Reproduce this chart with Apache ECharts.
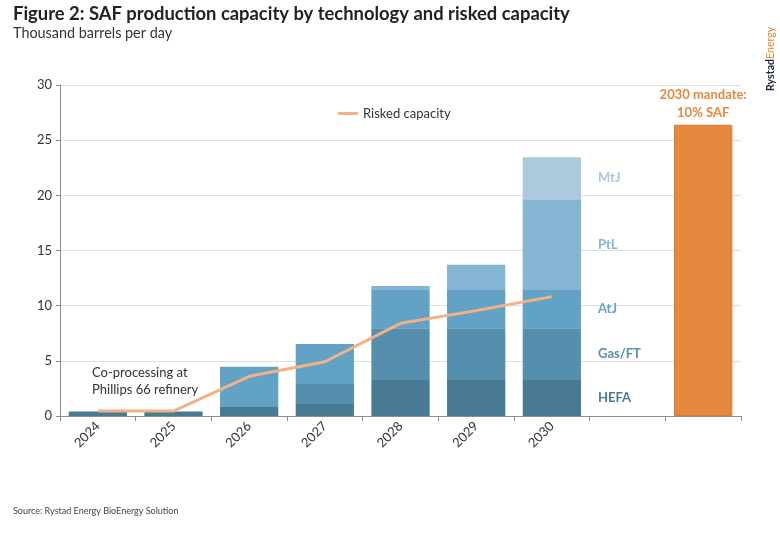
<!DOCTYPE html>
<html><head><meta charset="utf-8">
<script src="https://cdn.jsdelivr.net/npm/echarts@6/dist/echarts.min.js"></script>
<style>html,body{margin:0;padding:0;background:#fff}#c{width:780px;height:540px}</style>
</head><body><div id="c"></div>
<script>
const categories = ['2024','2025','2026','2027','2028','2029','2030','',''];
const hefa   = [0.4, 0.4, 0.82, 1.09, 3.26, 3.26, 3.26, null, null];
const gasft  = [0, 0, 0, 1.81, 4.69, 4.69, 4.69, null, null];
const atj    = [0, 0, 3.65, 3.63, 3.47, 3.47, 3.47, null, null];
const ptl    = [0, 0, 0, 0, 0.36, 2.28, 8.23, null, null];
const mtj    = [0, 0, 0, 0, 0, 0, 3.8, null, null];
const mandate = [null, null, null, null, null, null, null, null, 26.4];
const risked = [0.45, 0.45, 3.6, 4.92, 8.4, 9.55, 10.82, null, null];
const yTicks = [0, 5, 10, 15, 20, 25, 30];

const FONT = 'Lato';
const colors = {HEFA:'#497a94', 'Gas/FT':'#558fad', AtJ:'#62a3c5', PtL:'#84b5d3', MtJ:'#abcadd'};

function layer(name, data) {
  return {
    name, type:'bar', stack:'total', data, barCategoryGap:'23%',
    itemStyle:{color:colors[name]},
    label:{show:true, position:'right', distance:17, color:colors[name], fontFamily:FONT,
      fontWeight:'bold', fontSize:13,
      formatter:p => p.dataIndex === 6 ? name : ''},
    emphasis:{disabled:true}
  };
}

const chart = echarts.init(document.getElementById('c'));
chart.setOption({
  animation:false,
  textStyle:{fontFamily:FONT},
  title:[
    {text:'Figure 2: SAF production capacity by technology and risked capacity', left:8, top:0,
     textStyle:{fontFamily:FONT, fontWeight:'bold', fontSize:18.4, color:'#222'}},
    {text:'Thousand barrels per day', left:8, top:21,
     textStyle:{fontFamily:FONT, fontWeight:'normal', fontSize:14.4, color:'#333'}},
    {text:'Source: Rystad Energy BioEnergy Solution', left:8, top:502,
     textStyle:{fontFamily:FONT, fontWeight:'normal', fontSize:9, color:'#444'}}
  ],
  legend:{data:['Risked capacity'], left:333, top:102, itemWidth:20, itemHeight:3, itemGap:2,
    icon:'rect', textStyle:{fontFamily:FONT, fontSize:13, color:'#333'}},
  grid:{left:60, right:39, top:85, bottom:124},
  xAxis:{type:'category', data:categories,
    axisLine:{lineStyle:{color:'#8c8c8c'}},
    axisTick:{show:true, length:5, lineStyle:{color:'#8c8c8c'}},
    axisLabel:{rotate:45, fontFamily:FONT, fontSize:13, color:'#333', margin:8, interval:0}},
  yAxis:{type:'value', min:yTicks[0], max:yTicks[yTicks.length-1], interval:5,
    axisLine:{show:true, lineStyle:{color:'#8c8c8c'}},
    axisTick:{show:true, length:4, lineStyle:{color:'#8c8c8c'}},
    axisLabel:{fontFamily:FONT, fontSize:13, color:'#333', margin:8},
    splitLine:{lineStyle:{color:'#dedede'}}},
  series:[
    layer('HEFA', hefa), layer('Gas/FT', gasft), layer('AtJ', atj), layer('PtL', ptl), layer('MtJ', mtj),
    {name:'Mandate', type:'bar', stack:'total', data:mandate,
     itemStyle:{color:'#e5893f', borderColor:'#d97a30', borderWidth:1},
     label:{show:true, position:'top', distance:3, formatter:'2030 mandate:\n10% SAF',
       color:'#e5893f', fontFamily:FONT, fontWeight:'bold', fontSize:13, lineHeight:18}},
    {name:'Risked capacity', type:'line', data:risked, symbol:'none', connectNulls:false,
     lineStyle:{color:'#f4b183', width:3}, itemStyle:{color:'#f4b183'}, z:5}
  ],
  graphic:[
    {type:'text', left:92, top:364, style:{text:'Co-processing at\nPhillips 66 refinery',
      font:'13px Lato', fill:'#333', lineHeight:17}},
    {type:'text', x:765, y:91, rotation:Math.PI/2, style:{
      text:'{a|Rystad}{b|Energy}', rich:{a:{font:'bold 10.6px Lato', fill:'#1a2440'}, b:{font:'10.6px Lato', fill:'#e5893f'}}}}
  ]
});
</script></body></html>
